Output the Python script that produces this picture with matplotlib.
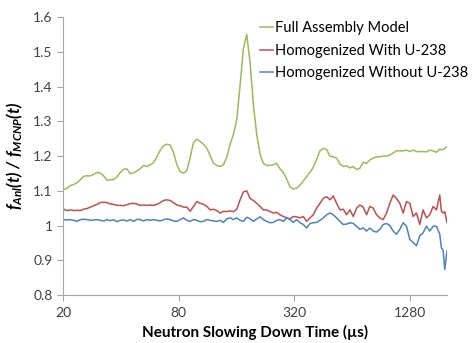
import numpy as np
import matplotlib
matplotlib.use("Agg")
import matplotlib.pyplot as plt

matplotlib.rcParams["font.family"] = ["Lato", "DejaVu Sans"]
matplotlib.rcParams["mathtext.fontset"] = "custom"
matplotlib.rcParams["mathtext.rm"] = "Lato:bold:italic"
matplotlib.rcParams["mathtext.it"] = "Lato:bold:italic"
matplotlib.rcParams["mathtext.bf"] = "Lato:bold:italic"

# 时间网格 (µs)，对数坐标
t_us = [
    20.16, 20.98, 21.84, 22.73, 23.65, 24.62, 25.62, 26.66, 27.75, 28.88,
    30.05, 31.28, 32.55, 33.88, 35.26, 36.69, 38.19, 39.74, 41.36, 43.05,
    44.80, 46.62, 48.52, 50.50, 52.55, 54.69, 56.92, 59.24, 61.65, 64.16,
    66.77, 69.49, 72.32, 75.27, 78.33, 81.52, 84.84, 88.30, 91.89, 95.63,
    99.53, 103.58, 107.80, 112.19, 116.76, 121.51, 126.46, 131.61, 136.97, 142.55,
    148.35, 154.39, 160.68, 167.22, 174.03, 181.12, 188.50, 196.17, 204.16, 212.48,
    221.13, 230.13, 239.50, 249.26, 259.41, 269.97, 280.96, 292.40, 304.31, 316.70,
    329.60, 343.02, 356.99, 371.53, 386.66, 402.41, 418.79, 435.85, 453.59, 472.07,
    491.29, 511.30, 532.12, 553.79, 576.34, 599.81, 624.24, 649.66, 676.12, 703.65,
    732.31, 762.13, 793.16, 825.46, 859.08, 894.06, 930.47, 968.36, 1007.8, 1048.8,
    1091.6, 1136.0, 1182.3, 1230.4, 1280.5, 1332.7, 1386.9, 1443.4, 1502.2, 1563.4,
    1627.0, 1693.3, 1762.2, 1834.0, 1871.0, 1908.7, 1947.0, 2000.0,
]

full_assembly = [
    1.104, 1.107, 1.115, 1.118, 1.123, 1.132, 1.142, 1.143, 1.143, 1.147,
    1.153, 1.151, 1.143, 1.130, 1.132, 1.132, 1.140, 1.153, 1.162, 1.163,
    1.149, 1.152, 1.157, 1.164, 1.173, 1.170, 1.175, 1.181, 1.198, 1.217,
    1.230, 1.234, 1.232, 1.210, 1.175, 1.155, 1.151, 1.158, 1.196, 1.239,
    1.249, 1.242, 1.234, 1.223, 1.201, 1.179, 1.173, 1.170, 1.175, 1.196,
    1.234, 1.262, 1.305, 1.404, 1.510, 1.550, 1.470, 1.348, 1.262, 1.206,
    1.179, 1.173, 1.173, 1.175, 1.179, 1.163, 1.153, 1.134, 1.111, 1.105,
    1.108, 1.116, 1.128, 1.141, 1.153, 1.168, 1.191, 1.215, 1.222, 1.219,
    1.200, 1.198, 1.194, 1.177, 1.170, 1.172, 1.166, 1.170, 1.161, 1.165,
    1.182, 1.179, 1.189, 1.194, 1.198, 1.198, 1.200, 1.200, 1.203, 1.209,
    1.215, 1.215, 1.215, 1.217, 1.213, 1.217, 1.213, 1.213, 1.213, 1.212,
    1.217, 1.215, 1.211, 1.220, 1.218, 1.219, 1.222, 1.227,
]

with_u238 = [
    1.047, 1.043, 1.045, 1.043, 1.044, 1.043, 1.047, 1.049, 1.053, 1.057,
    1.061, 1.066, 1.067, 1.066, 1.062, 1.061, 1.058, 1.058, 1.057, 1.060,
    1.063, 1.064, 1.062, 1.058, 1.059, 1.058, 1.059, 1.058, 1.061, 1.066,
    1.072, 1.074, 1.072, 1.066, 1.059, 1.057, 1.053, 1.053, 1.041, 1.055,
    1.069, 1.064, 1.061, 1.055, 1.045, 1.047, 1.043, 1.036, 1.041, 1.040,
    1.042, 1.040, 1.047, 1.074, 1.097, 1.100, 1.078, 1.072, 1.064, 1.055,
    1.045, 1.045, 1.040, 1.036, 1.038, 1.031, 1.026, 1.022, 1.019, 1.026,
    1.025, 1.022, 1.026, 1.012, 1.022, 1.031, 1.050, 1.064, 1.078, 1.083,
    1.074, 1.085, 1.064, 1.045, 1.047, 1.031, 1.045, 1.026, 1.050, 1.059,
    1.053, 1.031, 1.055, 1.050, 1.031, 1.022, 1.017, 1.036, 1.064, 1.088,
    1.078, 1.064, 1.036, 1.069, 1.064, 1.026, 1.036, 1.003, 1.045, 1.022,
    1.031, 1.055, 1.045, 1.088, 1.041, 1.036, 1.040, 1.008,
]

without_u238 = [
    1.017, 1.016, 1.017, 1.015, 1.012, 1.017, 1.018, 1.017, 1.015, 1.016,
    1.017, 1.015, 1.013, 1.017, 1.014, 1.017, 1.011, 1.015, 1.016, 1.013,
    1.017, 1.012, 1.018, 1.017, 1.013, 1.017, 1.015, 1.017, 1.015, 1.013,
    1.017, 1.019, 1.017, 1.013, 1.012, 1.017, 1.022, 1.015, 1.012, 1.017,
    1.015, 1.011, 1.012, 1.017, 1.015, 1.013, 1.012, 1.015, 1.009, 1.019,
    1.022, 1.017, 1.022, 1.015, 1.012, 1.024, 1.019, 1.012, 1.019, 1.025,
    1.017, 1.012, 1.008, 1.009, 1.015, 1.017, 1.012, 1.022, 1.017, 1.009,
    1.017, 1.008, 1.003, 0.993, 1.006, 1.008, 1.009, 1.015, 1.022, 1.031,
    1.036, 1.031, 1.022, 1.012, 1.003, 1.004, 1.008, 1.006, 0.998, 0.989,
    0.993, 0.984, 0.993, 0.984, 0.981, 0.989, 1.003, 1.006, 1.000, 0.984,
    0.975, 0.989, 1.008, 0.998, 0.960, 0.951, 0.942, 0.970, 0.979, 0.998,
    0.984, 0.998, 0.998, 0.975, 0.935, 0.930, 0.873, 0.927,
]

SERIES = [
    ("Full Assembly Model", full_assembly, "#9BBB59"),
    ("Homogenized With U-238", with_u238, "#C0504D"),
    ("Homogenized Without U-238", without_u238, "#4F81BD"),
]

x_ticks = [20, 80, 320, 1280]
x_tick_labels = ["20", "80", "320", "1280"]
y_ticks = [0.8, 0.9, 1.0, 1.1, 1.2, 1.3, 1.4, 1.5, 1.6]
y_tick_labels = ["0.8", "0.9", "1", "1.1", "1.2", "1.3", "1.4", "1.5", "1.6"]

AXIS_GRAY = "#A6A6A6"
TEXT_GRAY = "#404040"

fig = plt.figure(figsize=(4.74, 3.43), dpi=100)
ax = fig.add_axes([0.133, 0.140, 0.810, 0.810])

for label, vals, color in SERIES:
    ax.plot(t_us, vals, color=color, linewidth=1.1, label=label)

ax.set_xscale("log")
ax.set_xlim(20, 2000)
ax.set_ylim(0.8, 1.6)
ax.set_xticks(x_ticks)
ax.set_xticklabels(x_tick_labels)
ax.xaxis.set_minor_locator(matplotlib.ticker.NullLocator())
ax.set_yticks(y_ticks)
ax.set_yticklabels(y_tick_labels)

for side in ["top", "right"]:
    ax.spines[side].set_visible(False)
for side in ["left", "bottom"]:
    ax.spines[side].set_color(AXIS_GRAY)
    ax.spines[side].set_linewidth(0.8)
ax.tick_params(axis="both", colors=AXIS_GRAY, labelcolor=TEXT_GRAY,
               labelsize=10, length=4, width=0.8, direction="out")
ax.tick_params(axis="x", pad=5)

ax.set_xlabel("Neutron Slowing Down Time (µs)", fontsize=11,
              fontweight="bold", color="black", labelpad=4)
ax.set_ylabel(r"$f_{Anl}(t)\ /\ f_{MCNP}(t)$", fontsize=12,
              color="black", labelpad=6)

ax.legend(loc="upper left", bbox_to_anchor=(0.513, 0.985), frameon=False,
          fontsize=10.5, handlelength=0.9, handletextpad=0.12,
          labelspacing=0.58, borderaxespad=0.0, borderpad=0.0)

fig.savefig("out.png", dpi=100)
